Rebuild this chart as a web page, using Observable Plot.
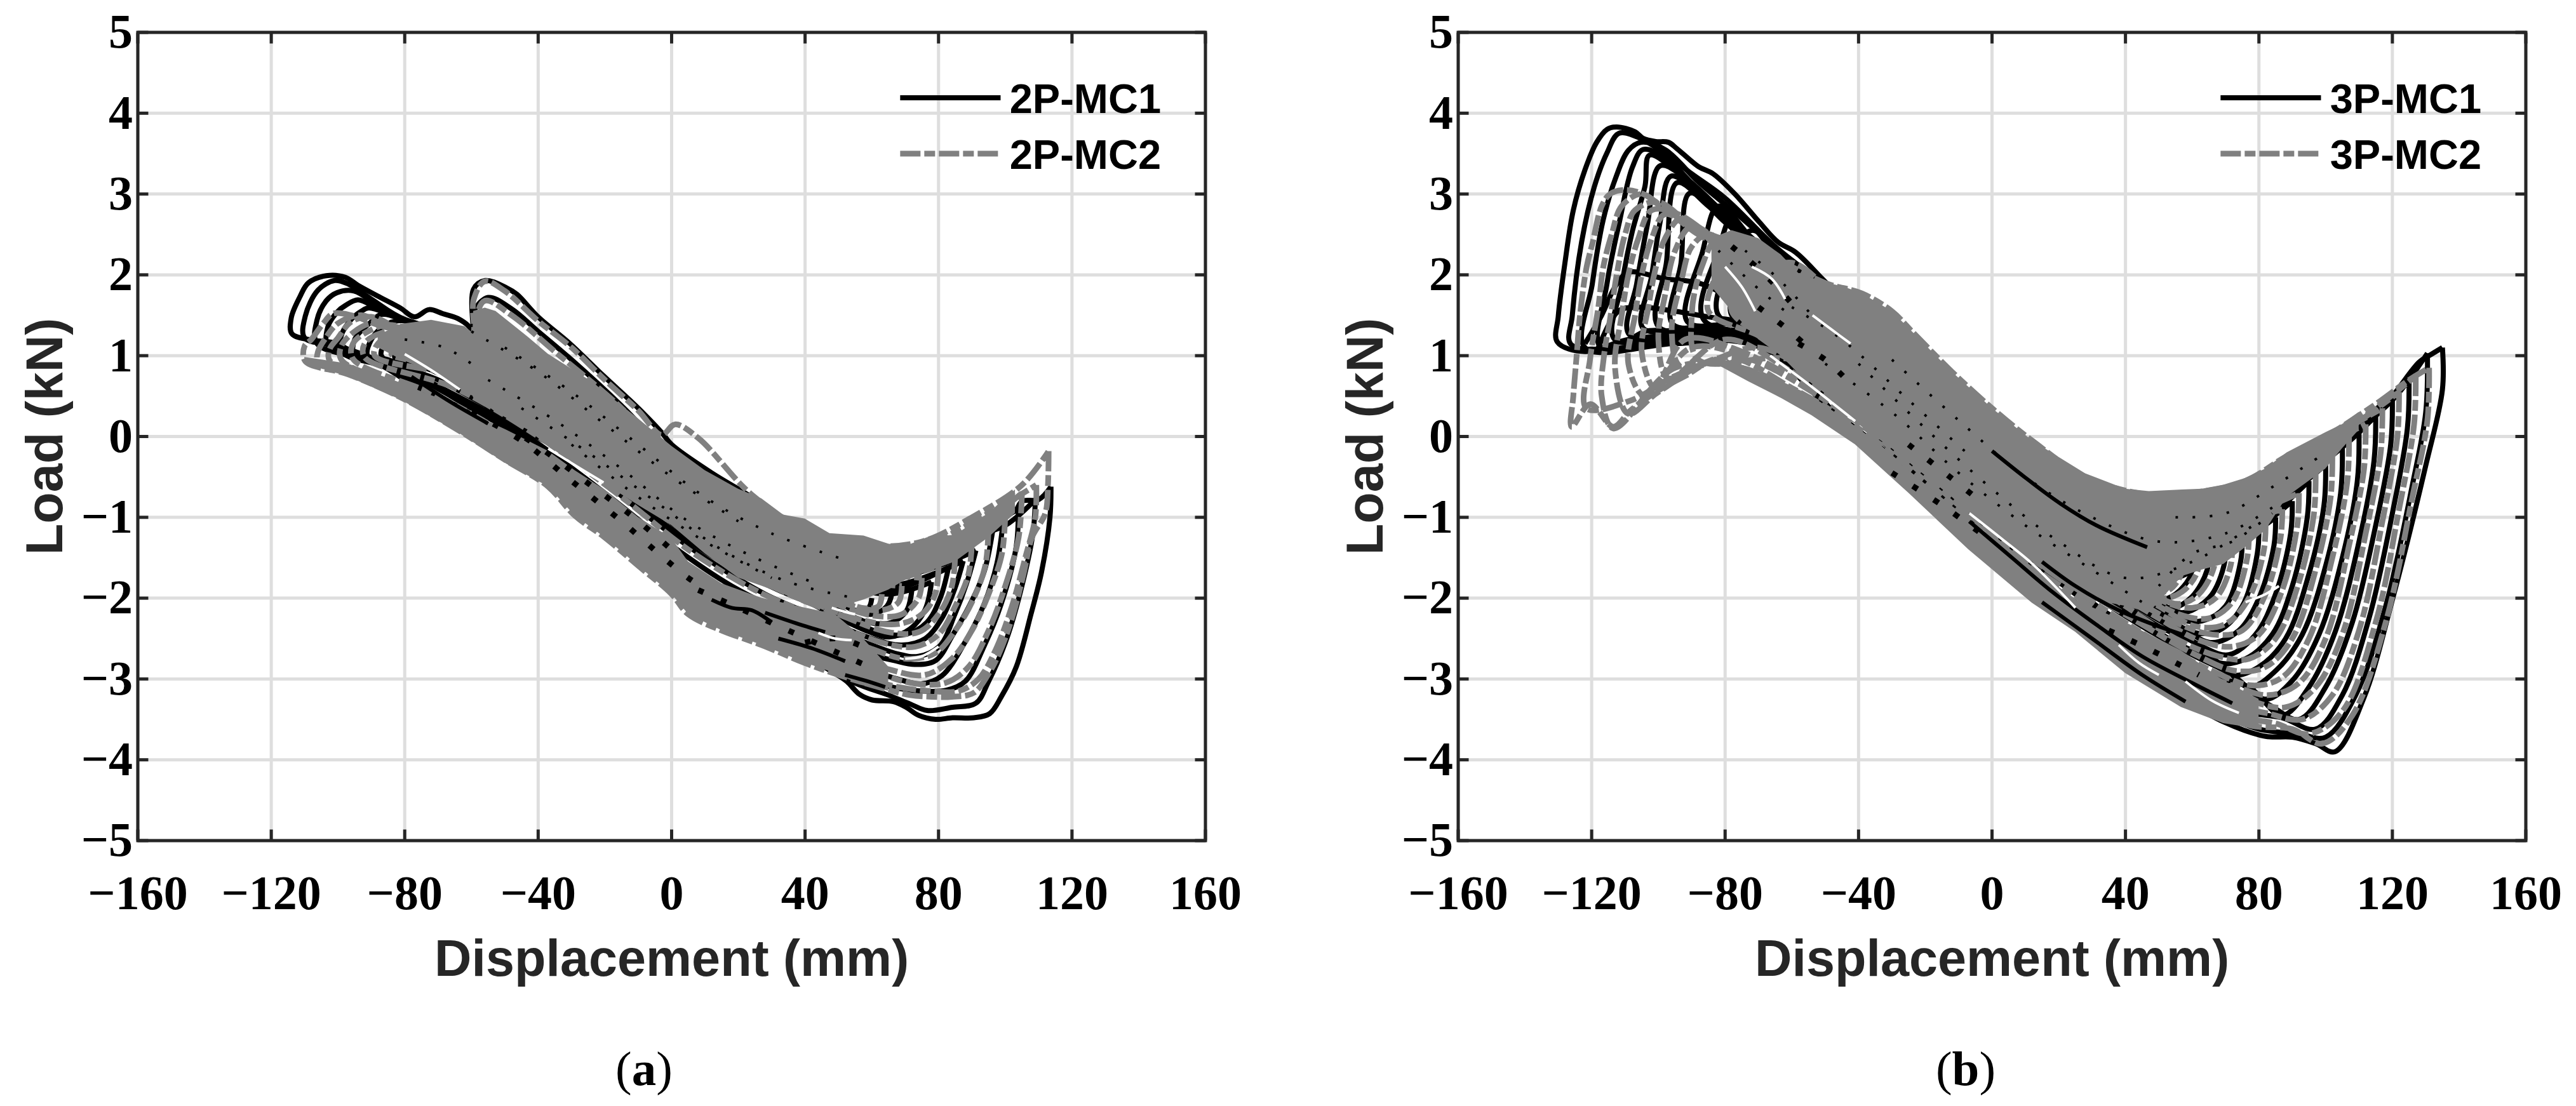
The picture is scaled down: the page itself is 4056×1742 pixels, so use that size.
<!DOCTYPE html>
<html><head><meta charset="utf-8">
<script src="https://cdn.jsdelivr.net/npm/d3@7"></script>
<script src="https://cdn.jsdelivr.net/npm/@observablehq/plot@0.6"></script>
<style>
html,body{margin:0;padding:0;background:#fff;width:4056px;height:1742px;overflow:hidden}
#row{display:flex;width:4056px}
.fig{width:2028px}
.fig svg{display:block}
.cap{font:77px/100px "Liberation Serif",serif;text-align:center;margin-top:63px;color:#000}
#capb{padding-left:106px;width:1922px}
</style></head><body>
<div id="row"><div class="fig" id="figa"></div><div class="fig" id="figb"></div></div>
<script>
const xTicks=[-160,-120,-80,-40,0,40,80,120,160];
const yTicks=[-5,-4,-3,-2,-1,0,1,2,3,4,5];
const xLabel="Displacement (mm)", yLabel="Load (kN)";
const aNames=["2P-MC1","2P-MC2"], bNames=["3P-MC1","3P-MC2"];

// Panel (a), 2P-MC1: one array per loading cycle, [displacement, load]
const a1=[
[[113.7,-.62],[113.4,-1],[110.9,-1.67],[107.7,-2.2],[103.3,-2.85],[98.8,-3.22],[95.3,-3.43],[90.6,-3.48],[84.2,-3.48],[79.1,-3.5],[74,-3.45],[70.3,-3.35],[66.5,-3.28],[60.1,-3.26],[56.3,-3.19],[52.5,-3.03],[49.3,-2.94],[37.9,-2.67],[25,-2.45],[12,-2.2],[5,-1.95],[0,-1.7],[-20,-1.05],[-32,-.63],[-49.5,-.13],[-60.3,.21],[-70.5,.45],[-80,.71],[-86.3,.95],[-92.7,.97],[-100.3,1.15],[-107.3,1.19],[-113.8,1.27],[-114,1.47],[-111.4,1.73],[-108.9,1.9],[-103.5,1.99],[-97.8,1.97],[-94,1.87],[-88.2,1.74],[-81.3,1.59],[-77.1,1.48],[-72.7,1.57],[-68.6,1.52],[-64.1,1.46],[-60.3,1.34],[-59.5,1.26],[-59.4,1.82],[-55.9,1.93],[-49.5,1.84],[-46.4,1.76],[-40,1.48],[-30.5,1.15],[-20.4,.75],[-10,.35],[-3,.05],[0,-.1],[12,-.45],[24,-.75],[40,-1.2],[60,-1.5],[80,-1.45],[98,-1],[103,-.92],[105,-.8],[110,-.78],[113.7,-.62]],
[[109,-.78],[108.3,-1.2],[104.5,-1.93],[100.1,-2.54],[95,-3.03],[91.2,-3.3],[84.2,-3.35],[76.6,-3.39],[71.5,-3.31],[65,-3.2],[55,-3.05],[40,-2.72],[20,-2.35],[10,-2.1],[-5,-1.55],[-25,-.88],[-45,-.15],[-65,.33],[-85,.88],[-100,1.12],[-110,1.22],[-109.8,1.49],[-106,1.81],[-101,1.93],[-97.1,1.89],[-90,1.7],[-80,1.45],[-60,1.3],[-59.3,1.55],[-55,1.72],[-48,1.58],[-40,1.3],[-30,.95],[-15,.38],[0,-.25],[15,-.75],[30,-1.1],[50,-1.55],[70,-1.6],[85,-1.3],[100,-1.1],[109,-.78]],
[[103.9,-.89],[103.3,-1.36],[98.8,-2.07],[93.7,-2.59],[88,-3.03],[82.3,-3.14],[75.3,-3.15],[66,-3.1],[55,-2.95],[40,-2.62],[22,-2.3],[8,-1.95],[-8,-1.35],[-30,-.6],[-50,-.02],[-70,.42],[-88,.9],[-106.3,1.15],[-106.3,1.44],[-103.5,1.68],[-100.3,1.78],[-95.2,1.8],[-88,1.62],[-78,1.4],[-59,1.2],[-45,.95],[-25,.4],[-5,-.2],[15,-.85],[35,-1.3],[55,-1.65],[75,-1.55],[90,-1.25],[103.9,-.89]],
[[99.5,-1],[97.5,-1.57],[93.7,-2.07],[88,-2.54],[81,-2.96],[74.7,-3.06],[67.7,-3],[55,-2.82],[40,-2.55],[25,-2.25],[8,-1.85],[-10,-1.2],[-35,-.38],[-55,.15],[-75,.62],[-92,.98],[-103,1.12],[-103,1.36],[-100,1.55],[-97.8,1.62],[-94,1.69],[-88,1.58],[-75,1.35],[-50,.95],[-25,.25],[0,-.55],[25,-1.15],[50,-1.7],[70,-1.6],[85,-1.4],[99.5,-1]],
[[96.3,-1.15],[93.7,-1.67],[89.3,-2.09],[84.2,-2.46],[79.2,-2.77],[72.8,-2.82],[66.5,-2.77],[55,-2.65],[40,-2.42],[22,-2.05],[5,-1.6],[-15,-.95],[-40,-.15],[-60,.35],[-80,.8],[-99,1.05],[-99,1.25],[-96,1.45],[-93,1.55],[-90.8,1.59],[-84,1.5],[-70,1.25],[-45,.7],[-20,-.05],[5,-.8],[30,-1.3],[55,-1.75],[75,-1.55],[96.3,-1.15]],
[[91.2,-1.41],[88.7,-1.78],[84.9,-2.2],[80.4,-2.59],[74,-2.72],[67.7,-2.69],[55,-2.5],[38,-2.25],[18,-1.85],[0,-1.35],[-20,-.7],[-45,.05],[-65,.5],[-85,.95],[-95,1],[-95,1.2],[-90,1.42],[-87,1.51],[-81,1.45],[-65,1.1],[-40,.45],[-15,-.3],[10,-1],[35,-1.5],[60,-1.8],[80,-1.6],[91.2,-1.41]],
[[87.4,-1.54],[84.9,-1.88],[81,-2.25],[76,-2.5],[69,-2.58],[60,-2.5],[45,-2.25],[28,-1.95],[10,-1.5],[-10,-.9],[-30,-.25],[-55,.3],[-75,.72],[-91,.98],[-90,1.2],[-85,1.4],[-78,1.42],[-60,1],[-35,.25],[-10,-.5],[15,-1.15],[40,-1.6],[65,-1.85],[87.4,-1.54]],
[[83,-1.62],[80.5,-2],[76.5,-2.3],[70,-2.45],[62,-2.42],[50,-2.2],[32,-1.9],[15,-1.55],[-5,-1],[-25,-.35],[-50,.25],[-70,.7],[-87,1],[-85,1.2],[-80,1.35],[-72,1.3],[-55,.9],[-30,.1],[-5,-.65],[20,-1.25],[45,-1.7],[65,-1.9],[83,-1.62]],
[[77.9,-1.8],[76,-2.14],[71.5,-2.38],[65.2,-2.48],[58.8,-2.41],[48,-2.2],[30,-1.8],[12,-1.42],[-8,-.82],[-28,-.2],[-52,.4],[-72,.82],[-83,.98],[-80,1.15],[-72,1.25],[-55,.75],[-30,0],[-5,-.75],[20,-1.35],[45,-1.75],[65,-1.95],[77.9,-1.8]],
[[72,-1.9],[70.5,-2.15],[66,-2.3],[59,-2.3],[48,-2.1],[30,-1.72],[10,-1.25],[-15,-.5],[-40,.15],[-60,.62],[-76,.95],[-74,1.15],[-65,1.15],[-45,.55],[-20,-.25],[5,-.95],[30,-1.5],[50,-1.85],[72,-1.9]],
[[66,-1.95],[64.5,-2.1],[60,-2.2],[52,-2.1],[40,-1.85],[20,-1.45],[0,-.9],[-25,-.15],[-50,.45],[-70,.85],[-68,1.05],[-55,.95],[-30,.15],[-5,-.6],[20,-1.25],[45,-1.75],[66,-1.95]],
[[60,-2],[59,-2.12],[55,-2.15],[50,-2.05],[42,-1.9]]
];
// Panel (a), 2P-MC2
const a2=[
[[113,-.18],[112.8,-.6],[112,-.95],[108,-1.25],[105.5,-1.7],[102,-2.25],[98.5,-2.65],[95.5,-2.9],[90.6,-3.17],[84,-3.22],[77.9,-3.22],[71.5,-3.2],[62,-3.1],[50,-2.95],[39.8,-2.8],[27,-2.58],[15,-2.4],[5,-2.2],[0,-1.95],[-10,-1.6],[-20,-1.25],[-29,-.98],[-37,-.62],[-49.5,-.3],[-64,.08],[-81,.48],[-97,.77],[-109.8,.93],[-110,1.12],[-108,1.2],[-104.4,1.4],[-101.5,1.52],[-96,1.5],[-88,1.38],[-75,1.25],[-60,1],[-59.3,1.7],[-56,1.92],[-50,1.8],[-40,1.43],[-30,1.1],[-20,.7],[-10,.32],[-3,.02],[1,.15],[8,-.02],[24,-.72],[40,-1.15],[60,-1.35],[75,-1.3],[90,-1],[105,-.6],[113,-.18]],
[[109.3,-.6],[109,-1],[106,-1.5],[102,-2.1],[97,-2.65],[92,-3],[86,-3.15],[78,-3.15],[68,-3.1],[55,-2.95],[35,-2.65],[15,-2.3],[0,-1.8],[-15,-1.3],[-35,-.5],[-55,0],[-75,.45],[-95,.8],[-106,.93],[-106,1.05],[-104,1.2],[-100,1.4],[-93,1.5],[-85,1.35],[-70,1.2],[-60,1],[-59,1.4],[-56,1.68],[-48,1.5],[-35,1.05],[-15,.35],[5,-.5],[25,-1.05],[50,-1.4],[75,-1.35],[95,-.95],[109.3,-.6]],
[[105,-.7],[104,-1.25],[100,-1.85],[95,-2.4],[89,-2.85],[82,-3.05],[72,-3.05],[60,-2.9],[40,-2.6],[20,-2.25],[2,-1.75],[-20,-1.05],[-45,-.3],[-65,.2],[-85,.65],[-102.5,.94],[-102.5,1.08],[-100,1.22],[-96,1.42],[-90,1.48],[-80,1.3],[-60,1.1],[-40,.7],[-15,0],[10,-.8],[40,-1.4],[70,-1.45],[90,-1.15],[105,-.7]],
[[100,-.95],[99,-1.45],[95,-1.95],[90,-2.4],[84,-2.75],[76,-2.95],[65,-2.88],[50,-2.65],[30,-2.35],[10,-1.9],[-10,-1.3],[-35,-.55],[-60,.25],[-80,.6],[-99,.95],[-99,1.12],[-95,1.3],[-90,1.4],[-82,1.35],[-60,1],[-35,.4],[-10,-.4],[15,-1.1],[45,-1.5],[70,-1.5],[88,-1.25],[100,-.95]],
[[95,-1.1],[94,-1.6],[90,-2.05],[85,-2.4],[79,-2.68],[70,-2.75],[58,-2.6],[40,-2.35],[20,-2],[0,-1.5],[-20,-.9],[-45,-.1],[-70,.5],[-95.5,.96],[-95.5,1.15],[-91,1.3],[-85,1.38],[-70,1.2],[-45,.6],[-20,-.2],[5,-.9],[35,-1.45],[65,-1.6],[95,-1.1]],
[[90,-1.3],[89,-1.7],[85,-2.1],[80,-2.45],[73,-2.6],[63,-2.55],[45,-2.25],[25,-1.9],[5,-1.4],[-15,-.75],[-40,0],[-65,.6],[-92,.98],[-92,1.15],[-87,1.28],[-78,1.3],[-55,.8],[-30,.05],[0,-.75],[30,-1.4],[60,-1.65],[90,-1.3]],
[[85,-1.45],[84,-1.85],[80,-2.2],[74,-2.42],[65,-2.42],[50,-2.2],[30,-1.85],[10,-1.35],[-10,-.65],[-35,.1],[-60,.7],[-89,1],[-88,1.15],[-82,1.28],[-70,1.2],[-45,.55],[-15,-.35],[15,-1.1],[45,-1.6],[85,-1.45]],
[[80,-1.6],[79,-1.95],[75,-2.2],[68,-2.32],[58,-2.28],[42,-2.05],[20,-1.6],[0,-1.05],[-25,-.3],[-50,.4],[-72,.88],[-84,1.02],[-78,1.18],[-60,.95],[-30,.1],[0,-.8],[30,-1.4],[60,-1.8],[80,-1.6]],
[[75,-1.75],[74,-2],[69,-2.2],[61,-2.22],[48,-2.05],[28,-1.65],[8,-1.15],[-15,-.45],[-40,.25],[-65,.8],[-70,1.05],[-50,.7],[-20,-.2],[10,-1.05],[40,-1.55],[75,-1.75]],
[[69,-1.85],[68,-2.05],[63,-2.15],[53,-2.08],[38,-1.8],[18,-1.35],[-5,-.75],[-30,0],[-55,.55],[-40,.45],[-10,-.5],[20,-1.25],[50,-1.75],[69,-1.85]],
[[63,-1.95],[62,-2.1],[57,-2.12],[50,-2],[42,-1.85]]
];
const aDenseX=  [-88,-81,-72,-62,-59.6,-59.4,-55.9,-52.7,-43,-37,-24,-10,0,10,20,27,33.5,40,47.4,57.6,65,70,76.6,85,95,103];
const aDenseTop=[1.25,1.39,1.44,1.36,1.28,1.55,1.59,1.55,1.23,1.02,.68,.22,-.12,-.42,-.65,-.77,-.97,-1.02,-1.2,-1.23,-1.33,-1.36,-1.25,-1.22,-.95,-.66];
const aDenseBot=[1.1,.95,.8,.55,.5,.48,.4,.3,.08,-.12,-.48,-.85,-1.1,-1.45,-1.75,-1.85,-1.95,-2.08,-2.15,-2.02,-1.9,-1.78,-1.68,-1.55,-1.25,-.95];
const aStripX=  [-110,-97,-81,-64,-49.5,-37,-29,-20,-10,0,5,15,27,40,49,57,65];
const aStripTop=[.98,.9,.66,.36,.08,-.18,-.42,-.66,-1,-1.26,-1.55,-1.82,-2,-2.12,-2.2,-2.48,-2.85];
const aStripBot=[.9,.74,.45,.05,-.34,-.62,-.98,-1.25,-1.6,-1.95,-2.2,-2.4,-2.58,-2.8,-2.93,-3.08,-3.15];
const aWhite=[[[-80,1.02],[-72,.82],[-63.5,.58]],[[-37,-.15],[-28,-.38],[-20.4,-.57]],[[48,-2.12],[52,-2.17],[55,-2.2]],[[70,-2.75],[75,-2.72],[80,-2.6]],[[44,-2.43],[49,-2.5],[54,-2.52]]];
const aSeams=[[[12,-2.02],[18,-2.12],[24,-2.15],[30,-2.3]],[[-78,.74],[-66,.42],[-55,.16]],[[32,-2.5],[42,-2.62],[52,-2.78]],[[28,-2.18],[38,-2.32],[46,-2.42]],[[52,-2.95],[58,-3.02],[64,-3.1]]];
const aThick=[[[-60,.3],[-45,-.05],[-30,-.55],[-15,-1.05],[-3,-1.48],[5,-1.75],[10,-1.88]],[[-50,.15],[-38,-.18],[-25,-.58],[-12,-.98],[0,-1.4]],[[8,-1.9],[20,-2.12],[35,-2.4],[50,-2.68],[62,-2.9]],[[40,-2.55],[50,-2.5],[60,-2.65]]];
const aSpecks=[[[-80,1.2],[-68,1.1],[-60,.9]],[[-50,1.1],[-30,.55],[-10,-.1],[10,-.75],[30,-1.2],[50,-1.5]],[[-55,.7],[-35,.2],[-15,-.4],[5,-1.05],[25,-1.5],[45,-1.85]],[[-60,1.3],[-40,.8],[-20,.15],[0,-.5],[20,-1.05]],[[-45,.35],[-25,-.2],[-5,-.8],[15,-1.4],[35,-1.8],[55,-2]],[[-30,-.1],[-10,-.75],[10,-1.3],[30,-1.75]]];

// Panel (b), 3P-MC1
const b1=[
[[135,1.1],[135,.58],[130,-.36],[120,-2.02],[111.4,-3.24],[102.8,-3.9],[97,-3.8],[90,-3.72],[82,-3.71],[69.4,-3.53],[56.7,-3.23],[44,-2.87],[31.3,-2.39],[18.6,-2.03],[5.9,-1.58],[-6.8,-1.16],[-20,-.73],[-36,-.1],[-45,.2],[-60,.85],[-73,1.2],[-90,1.25],[-109,1.2],[-122,1.05],[-130.3,1.17],[-130,1.49],[-128,2.15],[-125.5,2.8],[-122,3.3],[-118.5,3.64],[-115.4,3.8],[-112.5,3.83],[-107,3.77],[-104.6,3.69],[-100.8,3.65],[-97,3.64],[-94.4,3.56],[-88,3.34],[-83.6,3.25],[-77.3,3.01],[-69.7,2.65],[-64,2.4],[-58.9,2.28],[-50.6,1.94],[-40,1.5],[-20,.75],[0,-.18],[9.7,-.5],[20.5,-.83],[31.3,-1.1],[46.5,-1.37],[60,-1.3],[80,-.9],[100,-.3],[110,.05],[120,.5],[128,.92],[131,1],[135,1.1]],
[[130.5,1.03],[130,.3],[126,-.6],[118,-2.1],[109,-3.2],[100,-3.72],[92,-3.68],[80,-3.62],[68,-3.42],[55,-3.1],[42,-2.72],[30,-2.3],[16,-1.9],[2,-1.38],[-12,-.9],[-30,-.25],[-50,.4],[-68,1.08],[-90,1.2],[-110,1.1],[-126.2,1.14],[-125.8,1.5],[-123,2.41],[-119.2,3.09],[-115.4,3.51],[-111.9,3.75],[-106,3.7],[-98,3.5],[-90,3.25],[-80,2.95],[-65,2.35],[-50,1.85],[-35,1.2],[-15,.4],[5,-.45],[25,-1],[45,-1.4],[65,-1.3],[85,-.75],[105,-.05],[120,.45],[130.5,1.03]],
[[125,.68],[124.5,.1],[120,-.95],[113,-2.25],[105,-3.2],[97,-3.62],[87,-3.48],[75,-3.4],[60,-3.1],[45,-2.65],[30,-2.2],[15,-1.75],[0,-1.2],[-15,-.75],[-35,.05],[-55,.65],[-70,1.15],[-95,1.15],[-122,1.1],[-119.8,1.89],[-116.6,2.67],[-112.8,3.2],[-109,3.54],[-105.2,3.64],[-98,3.55],[-88,3.15],[-75,2.7],[-60,2.15],[-45,1.55],[-25,.65],[-5,-.2],[15,-.85],[35,-1.25],[55,-1.4],[75,-1.1],[95,-.45],[110,.15],[125,.68]],
[[120,.45],[119.5,-.1],[115,-1.1],[108,-2.3],[100,-3.1],[92,-3.5],[82,-3.3],[70,-3.15],[55,-2.85],[40,-2.4],[25,-1.95],[10,-1.5],[-5,-1],[-25,-.35],[-45,.4],[-62,1.05],[-80,1.25],[-100,1.18],[-117.3,1.1],[-115.4,1.89],[-111.6,2.67],[-107.8,3.33],[-104.6,3.55],[-98,3.45],[-88,3.05],[-75,2.55],[-60,2.05],[-40,1.25],[-20,.45],[0,-.4],[20,-1],[40,-1.35],[60,-1.35],[80,-.95],[100,-.3],[120,.45]],
[[115,.25],[114.5,-.3],[110,-1.3],[103,-2.4],[95,-3.1],[87,-3.45],[77,-3.1],[65,-2.95],[50,-2.6],[35,-2.2],[20,-1.75],[5,-1.25],[-15,-.55],[-35,.15],[-55,.85],[-70,1.2],[-90,1.28],[-113.1,1.2],[-110.9,1.89],[-107.8,2.54],[-104,3.1],[-102.7,3.48],[-95,3.3],[-85,2.9],[-70,2.35],[-50,1.6],[-30,.8],[-10,-.05],[10,-.75],[30,-1.2],[50,-1.45],[70,-1.2],[90,-.65],[115,.25]],
[[110,.05],[109.5,-.55],[105,-1.5],[98,-2.45],[90,-3.02],[82,-3.25],[72,-2.95],[60,-2.7],[45,-2.35],[30,-1.95],[15,-1.5],[0,-1],[-20,-.3],[-40,.35],[-60,1],[-85,1.3],[-108.7,1.26],[-106.5,1.89],[-103.3,2.62],[-99.5,3.35],[-92,3.2],[-80,2.75],[-65,2.2],[-45,1.4],[-25,.55],[-5,-.25],[15,-.9],[35,-1.3],[55,-1.45],[75,-1.1],[95,-.45],[110,.05]],
[[105,-.1],[104.5,-.7],[100,-1.6],[93,-2.45],[85,-2.9],[77,-3.1],[68,-2.8],[55,-2.55],[40,-2.15],[25,-1.75],[10,-1.3],[-5,-.8],[-25,-.1],[-45,.55],[-65,1.1],[-85,1.35],[-104.6,1.34],[-102,1.99],[-99.5,2.65],[-96.3,3.22],[-88,3],[-75,2.5],[-60,2],[-40,1.2],[-20,.3],[0,-.45],[20,-1.05],[40,-1.4],[60,-1.45],[80,-.95],[105,-.1]],
[[100,-.35],[99.5,-.85],[95,-1.7],[88,-2.5],[80,-2.85],[72,-2.95],[63,-2.6],[50,-2.35],[35,-1.95],[20,-1.5],[5,-1.05],[-15,-.4],[-35,.3],[-55,.9],[-75,1.3],[-100,1.36],[-97.6,2.15],[-94.4,3.14],[-85,2.85],[-70,2.3],[-55,1.8],[-35,1],[-15,.1],[5,-.6],[25,-1.15],[45,-1.5],[65,-1.4],[85,-.85],[100,-.35]],
[[95,-.55],[94.5,-1],[90,-1.85],[84,-2.45],[76,-2.75],[68,-2.8],[59,-2.5],[45,-2.15],[30,-1.75],[15,-1.3],[0,-.85],[-20,-.2],[-40,.45],[-60,1.05],[-75,1.38],[-95.7,1.39],[-93.2,2.15],[-90.6,3.01],[-80,2.65],[-65,2.1],[-45,1.35],[-25,.45],[-5,-.35],[15,-.95],[35,-1.35],[55,-1.55],[75,-1.25],[95,-.55]],
[[90,-.8],[89.5,-1.2],[85,-1.95],[79,-2.45],[71,-2.7],[63,-2.6],[50,-2.25],[35,-1.85],[20,-1.45],[5,-.95],[-15,-.3],[-35,.35],[-55,1],[-70,1.4],[-91.3,1.42],[-86.8,2.28],[-82,2.85],[-70,2.35],[-50,1.55],[-30,.7],[-10,-.15],[10,-.8],[30,-1.25],[50,-1.6],[70,-1.4],[90,-.8]],
[[85,-1],[84.5,-1.35],[80,-2],[74,-2.4],[66,-2.55],[58,-2.4],[45,-2.05],[30,-1.65],[15,-1.2],[0,-.7],[-20,-.05],[-40,.6],[-60,1.2],[-86.5,1.45],[-82,2.3],[-77,2.75],[-60,2],[-40,1.1],[-20,.25],[0,-.5],[20,-1.1],[40,-1.5],[60,-1.6],[85,-1]],
[[80,-1.1],[79.5,-1.45],[75,-2.1],[68,-2.4],[60,-2.42],[50,-2.15],[35,-1.7],[20,-1.3],[5,-.8],[-15,-.1],[-35,.55],[-55,1.2],[-82,1.5],[-78,2.2],[-72,2.55],[-55,1.8],[-35,.85],[-15,0],[5,-.65],[25,-1.2],[45,-1.6],[80,-1.1]],
[[75,-1.2],[74.5,-1.55],[70,-2.1],[63,-2.28],[55,-2.25],[45,-2],[30,-1.55],[15,-1.1],[0,-.6],[-20,.1],[-40,.8],[-60,1.35],[-78,1.5],[-74,2.1],[-68,2.4],[-50,1.6],[-30,.65],[-10,-.15],[10,-.85],[30,-1.35],[50,-1.7],[75,-1.2]],
[[70,-1.3],[69.5,-1.6],[65,-2],[57,-2.18],[50,-2.05],[35,-1.6],[20,-1.15],[5,-.7],[-15,0],[-35,.7],[-50,1.2],[-74,1.5],[-70,2],[-60,2.1],[-45,1.4],[-25,.45],[-5,-.3],[15,-1],[35,-1.45],[55,-1.75],[70,-1.3]],
[[65,-1.4],[64.5,-1.65],[60,-1.98],[54,-2.12],[47,-2.02],[38,-1.75]],
[[60,-1.5],[59.5,-1.72],[55,-1.95],[50,-2.02],[44,-1.9]],
[[55,-1.6],[54.5,-1.75],[51,-1.92],[47,-1.95]],
[[-122,1.15],[-117,1.5],[-113,1.85],[-109,2.03],[-98,1.95],[-88,1.9],[-80,1.75],[-75,1.6],[-65,1.45]],
[[-118,1.1],[-112,1.55],[-106,1.6],[-95,1.55],[-85,1.48],[-75,1.42],[-65,1.28]],
[[-110,1.15],[-104,1.3],[-94,1.3],[-84,1.3],[-72,1.2]]
];
// Panel (b), 3P-MC2
const b2=[
[[131,.85],[130.5,.2],[126,-.75],[118,-2.3],[108,-3.45],[99,-3.8],[90,-3.62],[78,-3.58],[65,-3.4],[50,-3.05],[40,-2.8],[25,-2.35],[12,-1.95],[-7,-1.32],[-25,-.62],[-41,.02],[-54,.36],[-63,.55],[-73,.76],[-82.4,.95],[-91.9,.75],[-100.8,.55],[-108.4,.32],[-113.5,.12],[-120.4,.4],[-126,.12],[-125.5,.5],[-124.5,1],[-123.5,1.5],[-121.5,2.1],[-119.7,2.4],[-117,2.85],[-114.5,3],[-110,3.05],[-104.5,3],[-99,2.85],[-90,2.6],[-78,2.4],[-65,2.2],[-50,1.9],[-39,1.77],[-30,1.55],[-24,1.3],[-12,.8],[0,.35],[12,-.05],[28,-.5],[47,-.72],[63,-.68],[76,-.55],[88,-.25],[100,0],[115,.4],[125,.7],[131,.85]],
[[127,.75],[126.5,.15],[122,-.9],[115,-2.3],[105,-3.4],[95,-3.68],[85,-3.55],[72,-3.45],[58,-3.15],[42,-2.72],[28,-2.25],[12,-1.85],[-5,-1.2],[-25,-.5],[-45,.2],[-65,.6],[-82,.92],[-95,.75],[-108,.45],[-121.6,.35],[-120.5,.95],[-118,1.6],[-116.5,2.1],[-114,2.5],[-111,2.85],[-105,3],[-98,2.8],[-85,2.45],[-70,2.15],[-50,1.75],[-30,1.35],[-10,.6],[10,-.1],[30,-.6],[50,-.8],[70,-.75],[90,-.3],[110,.2],[127,.75]],
[[122,.55],[121.5,0],[117,-1.05],[110,-2.4],[102,-3.2],[93,-3.5],[82,-3.42],[68,-3.3],[52,-2.95],[36,-2.5],[20,-2.05],[5,-1.55],[-15,-.85],[-35,-.1],[-55,.45],[-75,.85],[-95,.85],[-113.5,.1],[-117,.5],[-116.3,1],[-114.5,1.45],[-112.5,2],[-110,2.5],[-107,2.8],[-100,2.9],[-90,2.6],[-75,2.2],[-55,1.8],[-35,1.4],[-15,.7],[5,0],[25,-.55],[45,-.85],[65,-.8],[85,-.4],[105,.05],[122,.55]],
[[117,.35],[116.5,-.2],[112,-1.2],[105,-2.45],[97,-3.1],[88,-3.35],[76,-3.25],[62,-3.05],[46,-2.65],[30,-2.2],[15,-1.75],[0,-1.25],[-20,-.55],[-40,.1],[-60,.6],[-80,.98],[-100,.55],[-109,.28],[-113,.85],[-111,1.5],[-109,2],[-106,2.45],[-102,2.8],[-94,2.75],[-80,2.35],[-60,1.9],[-40,1.5],[-20,.85],[0,.1],[20,-.5],[40,-.85],[60,-.85],[80,-.55],[100,-.05],[117,.35]],
[[112,.15],[111.5,-.4],[107,-1.35],[100,-2.5],[92,-3.05],[83,-3.2],[72,-3.08],[58,-2.85],[42,-2.45],[26,-2],[10,-1.55],[-10,-.85],[-30,-.15],[-50,.45],[-72,.95],[-90,1.1],[-104,.5],[-109,.9],[-107,1.5],[-105,2],[-102,2.45],[-98,2.75],[-88,2.5],[-72,2.15],[-50,1.7],[-30,1.15],[-10,.45],[10,-.25],[30,-.7],[50,-.85],[70,-.75],[90,-.3],[112,.15]],
[[107,0],[106.5,-.55],[102,-1.5],[95,-2.5],[87,-2.98],[78,-3.08],[66,-2.9],[52,-2.6],[36,-2.2],[20,-1.75],[5,-1.3],[-15,-.6],[-35,.05],[-55,.6],[-75,1.05],[-92,1.2],[-101,.6],[-105,1.05],[-103,1.6],[-101,2.05],[-98,2.45],[-93,2.7],[-82,2.35],[-65,2],[-45,1.6],[-25,.95],[-5,.25],[15,-.4],[35,-.8],[55,-.9],[75,-.65],[95,-.15],[107,0]],
[[102,-.25],[101.5,-.75],[97,-1.65],[90,-2.5],[82,-2.85],[73,-2.9],[61,-2.7],[46,-2.35],[30,-1.95],[15,-1.5],[0,-1.05],[-20,-.35],[-40,.25],[-60,.8],[-80,1.2],[-97,.72],[-100,1.2],[-98,1.75],[-95,2.3],[-90,2.6],[-78,2.3],[-60,1.95],[-40,1.4],[-20,.7],[0,0],[20,-.55],[40,-.9],[60,-.95],[80,-.65],[102,-.25]],
[[97,-.45],[96.5,-.95],[92,-1.8],[85,-2.5],[77,-2.75],[68,-2.72],[55,-2.5],[40,-2.1],[25,-1.7],[10,-1.25],[-10,-.6],[-30,.05],[-50,.65],[-70,1.1],[-93,.85],[-96,1.3],[-93,1.95],[-90,2.35],[-85,2.5],[-72,2.15],[-55,1.8],[-35,1.2],[-15,.5],[5,-.2],[25,-.7],[45,-1],[65,-1.05],[85,-.65],[97,-.45]],
[[92,-.7],[91.5,-1.1],[87,-1.9],[80,-2.45],[72,-2.6],[62,-2.52],[48,-2.2],[32,-1.8],[18,-1.4],[0,-.85],[-20,-.2],[-40,.45],[-60,.95],[-88,.95],[-90,1.5],[-87,2.1],[-82,2.45],[-68,2.05],[-50,1.65],[-30,.95],[-10,.25],[10,-.4],[30,-.85],[50,-1.1],[70,-1.05],[92,-.7]],
[[87,-.9],[86.5,-1.25],[82,-1.95],[75,-2.4],[66,-2.45],[55,-2.3],[40,-1.95],[25,-1.55],[10,-1.1],[-10,-.45],[-30,.2],[-50,.8],[-70,1.25],[-85,1.55],[-82,2.05],[-77,2.35],[-62,1.95],[-45,1.45],[-25,.75],[-5,.05],[15,-.55],[35,-1],[55,-1.2],[87,-.9]],
[[82,-1.05],[81.5,-1.4],[77,-2],[70,-2.32],[61,-2.35],[50,-2.1],[35,-1.75],[20,-1.35],[5,-.9],[-15,-.25],[-35,.4],[-55,1],[-78,1.55],[-74,2.05],[-68,2.25],[-50,1.6],[-30,.9],[-10,.15],[10,-.5],[30,-1],[50,-1.25],[82,-1.05]],
[[77,-1.15],[76.5,-1.5],[72,-2.05],[65,-2.25],[56,-2.2],[45,-1.95],[30,-1.55],[15,-1.15],[0,-.7],[-20,-.05],[-40,.6],[-60,1.2],[-72,1.6],[-68,2],[-60,2.15],[-42,1.5],[-20,.55],[0,-.2],[20,-.75],[40,-1.15],[60,-1.3],[77,-1.15]],
[[72,-1.25],[71.5,-1.6],[67,-2],[60,-2.12],[52,-2.05],[40,-1.75],[25,-1.35],[10,-.95],[-5,-.5],[-25,.15],[-45,.8],[-60,1.3],[-66,1.7],[-60,2],[-45,1.6],[-25,.8],[-5,.05],[15,-.6],[35,-1.1],[55,-1.35],[72,-1.25]],
[[67,-1.3],[66.5,-1.62],[62,-1.95],[56,-2.07],[48,-1.95],[38,-1.68]],
[[62,-1.42],[61.5,-1.68],[57,-1.92],[51,-2],[44,-1.82]],
[[57,-1.52],[56.5,-1.72],[53,-1.9],[48,-1.93]]
];
const bDenseX=  [-84,-78,-70,-63.3,-58,-50.6,-44.3,-39,-30,-24,-12,0,12,18.6,28,40,47.1,57,63,69.4,75.7,82,88.4,100,105,110];
const bDenseTop=[2.45,2.55,2.45,2.25,2.02,1.91,1.85,1.77,1.55,1.3,.8,.35,-.05,-.22,-.46,-.65,-.68,-.66,-.65,-.6,-.52,-.4,-.2,.05,.15,.3];
const bDenseBot=[1.85,1.55,1.2,1,.78,.55,.3,.12,-.15,-.35,-.75,-1.2,-1.55,-1.75,-2,-2.1,-2.18,-1.73,-1.65,-1.58,-1.38,-1.16,-.75,-.4,-.15,.08];
const bStripX=  [-82.4,-73,-63,-54,-41,-25,-7,12,25,40,56.7,69.4,80];
const bStripTop=[.97,.86,.68,.5,.12,-.42,-1.03,-1.62,-2.02,-2.3,-2.65,-3.02,-3.25];
const bStripBot=[.89,.68,.47,.26,-.1,-.7,-1.4,-2.06,-2.42,-2.93,-3.35,-3.55,-3.62];
const bWhite=[[[-66.5,1],[-57,.71],[-41,.19]],[[-53.8,1.5],[-48,1.32],[-42.4,1.15]],[[-6.8,-.95],[3,-1.27],[12.2,-1.58],[25,-2.12]],[[38,-2.58],[44,-2.8],[50,-2.95]],[[58,-3.03],[66,-3.27],[74,-3.42]],[[76,-2.05],[82,-1.95],[86,-1.85]],[[-72,2.1],[-66,1.95],[-62,1.7]],[[-80,2.1],[-75,1.85],[-71,1.55]]];
const bSeams=[[[0,-.18],[9.7,-.5],[20.5,-.83],[31.3,-1.1],[46.5,-1.37]],[[15,-1.55],[25,-1.85],[38,-2.15],[50,-2.35],[57,-2.45]],[[-6.8,-1.05],[6,-1.5],[18,-1.92],[32,-2.35],[45,-2.72],[60,-3.05],[72,-3.3]],[[15,-2.05],[30,-2.5],[45,-2.95],[58,-3.28]]];
const bThick=[[[-58,1.15],[-50,.95],[-44,.72]],[[-25,-.1],[-12,-.52],[-2,-.85]],[[-30,-.45],[-15,-.85],[0,-1.3]],[[-78,2.35],[-68,2],[-58,1.55]],[[-70,1.6],[-62,1.35],[-55,1.1]],[[35,-2.4],[48,-2.65],[62,-2.95]]];
const bSpecks=[[[-60,1.6],[-45,1.2],[-25,.45],[-5,-.3]],[[-50,.9],[-30,.3],[-10,-.45],[10,-1.1],[30,-1.65],[45,-2.05]],[[-40,.9],[-20,.1],[0,-.65],[20,-1.3],[40,-1.75],[60,-1.55],[80,-1.05]],[[-30,.95],[-10,.2],[10,-.5],[30,-1],[50,-1.3],[70,-1.2],[85,-.85]],[[50,-1.85],[60,-1.45],[72,-1.3],[84,-.95]],[[55,-1],[70,-.95],[85,-.6],[100,-.2]],[[-82,2.3],[-72,1.9],[-62,1.55]],[[-74,2.3],[-64,1.95],[-54,1.5]]];

const rows=(loops)=>loops.flatMap((l,i)=>l.map(([x,y])=>({x,y,i})));
const band=(X,T,B)=>X.map((x,k)=>({x,y1:T[k],y2:B[k]}));
const legendLineX=[68.5,98.6], legendTextX=101.3, legendY=[4.19,3.5];
const dash="32 6 17 6";

function panel(o){
  const lineOpt={x:"x",y:"y",z:"i",curve:"catmull-rom",strokeLinejoin:"round",strokeLinecap:"butt"};
  const svg=Plot.plot({
    width:2028,height:1570,
    marginLeft:o.ml,marginRight:o.mr,marginTop:50.5,marginBottom:246.5,
    style:{background:"#fff",overflow:"visible"},
    x:{domain:[-160,160],label:null,axis:null},
    y:{domain:[-5,5],label:null,axis:null},
    marks:[
      Plot.ruleX(xTicks,{stroke:"#dedede",strokeWidth:5}),
      Plot.ruleY(yTicks,{stroke:"#dedede",strokeWidth:5}),
      Plot.axisX({anchor:"bottom",ticks:xTicks,tickSize:-17,label:null,tickPadding:71,stroke:"#262626",strokeWidth:5,strokeOpacity:1,fill:"#000",fontSize:76,fontFamily:"Liberation Serif",fontWeight:"bold"}),
      Plot.axisX({anchor:"top",ticks:xTicks,tickSize:-17,label:null,text:null,tickFormat:null,stroke:"#262626",strokeWidth:5}),
      Plot.axisY({anchor:"left",ticks:yTicks,tickSize:-17,label:null,tickPadding:25,stroke:"#262626",strokeWidth:5,strokeOpacity:1,fill:"#000",fontSize:76,fontFamily:"Liberation Serif",fontWeight:"bold"}),
      Plot.axisY({anchor:"right",ticks:yTicks,tickSize:-17,label:null,text:null,tickFormat:null,stroke:"#262626",strokeWidth:5}),
      Plot.line(rows(o.l1),{...lineOpt,stroke:"#000",strokeWidth:8}),
      Plot.line(rows(o.l2),{...lineOpt,stroke:"#808080",strokeWidth:9,strokeDasharray:dash}),
      Plot.areaY(band(o.dX,o.dT,o.dB),{x:"x",y1:"y1",y2:"y2",fill:"#808080"}),
      Plot.areaY(band(o.sX,o.sT,o.sB),{x:"x",y1:"y1",y2:"y2",fill:"#808080"}),
      Plot.line(rows(o.specks),{...lineOpt,stroke:"#000",strokeWidth:4,strokeDasharray:"4 23"}),
      Plot.line(rows(o.thick),{...lineOpt,stroke:"#000",strokeWidth:9,strokeDasharray:"9 30"}),
      Plot.line(rows(o.seams),{...lineOpt,stroke:"#000",strokeWidth:6}),
      Plot.line(rows(o.white),{...lineOpt,stroke:"#fff",strokeWidth:4}),
      Plot.frame({stroke:"#262626",strokeWidth:5}),
      Plot.line(legendLineX.map(x=>({x,y:legendY[0]})),{x:"x",y:"y",stroke:"#000",strokeWidth:8,strokeLinecap:"butt"}),
      Plot.line(legendLineX.map(x=>({x,y:legendY[1]})),{x:"x",y:"y",stroke:"#808080",strokeWidth:9,strokeDasharray:dash,strokeLinecap:"butt"}),
      Plot.text(o.names,{x:()=>legendTextX,y:(d,i)=>legendY[i],text:d=>d,textAnchor:"start",dy:3,fill:"#000",fontSize:65,fontFamily:"Liberation Sans",fontWeight:"bold"}),
      Plot.text([xLabel],{frameAnchor:"bottom",dy:213,fill:"#262626",fontSize:81,fontFamily:"Liberation Sans",fontWeight:"bold",text:d=>d}),
      Plot.text([yLabel],{frameAnchor:"left",textAnchor:"middle",dx:-145,rotate:-90,fill:"#262626",fontSize:81,fontFamily:"Liberation Sans",fontWeight:"bold",text:d=>d})
    ]
  });
  return svg;
}
function addCap(id,letter,capId){
  const c=document.createElement("div");c.className="cap";if(capId)c.id=capId;
  c.innerHTML="(<b>"+letter+"</b>)";
  document.getElementById(id).appendChild(c);
}
document.getElementById("figa").appendChild(panel({ml:216.5,mr:130.5,names:aNames,l1:a1,l2:a2,dX:aDenseX,dT:aDenseTop,dB:aDenseBot,sX:aStripX,sT:aStripTop,sB:aStripBot,white:aWhite,seams:aSeams,specks:aSpecks,thick:aThick}));
addCap("figa","a");
document.getElementById("figb").appendChild(panel({ml:267.5,mr:79.5,names:bNames,l1:b1,l2:b2,dX:bDenseX,dT:bDenseTop,dB:bDenseBot,sX:bStripX,sT:bStripTop,sB:bStripBot,white:bWhite,seams:bSeams,specks:bSpecks,thick:bThick}));
addCap("figb","b","capb");
</script>
</body></html>
